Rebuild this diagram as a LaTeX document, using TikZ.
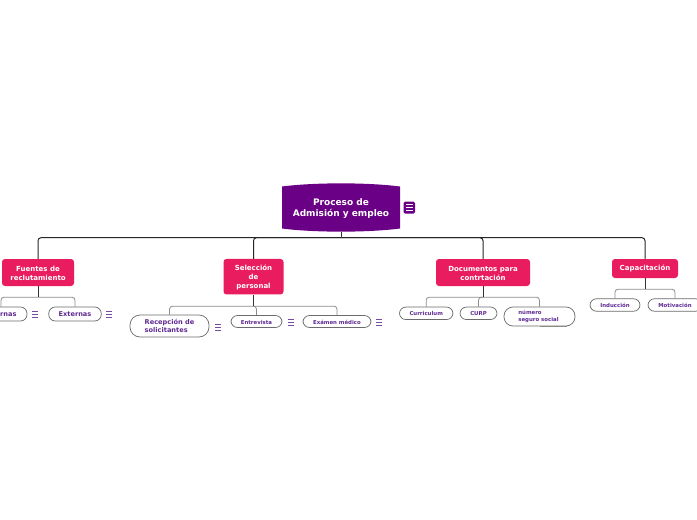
\documentclass[tikz,border=0pt]{standalone}
\usepackage{fontspec}
\setmainfont{DejaVu Sans}
\definecolor{rootc}{HTML}{6A0085}
\definecolor{pinkc}{HTML}{E91C60}
\definecolor{kidtxt}{HTML}{5F2A92}
\definecolor{kidline}{HTML}{6B6B6B}
\definecolor{busg}{HTML}{8C8C8C}
\newcommand{\burger}[2]{%
  \draw[kidtxt!85,line width=0.8pt] (#1-3,#2-3) -- (#1+3,#2-3) (#1-3,#2) -- (#1+3,#2) (#1-3,#2+3) -- (#1+3,#2+3);}
\newcommand{\dnt}{\rule{0pt}{7pt}}
\newcommand{\dnk}{\rule{0pt}{5.4pt}}
\tikzset{
  x=1pt,y=-1pt,
  rootlabel/.style={text=white,font=\bfseries\fontsize{9}{11.2}\selectfont,align=center,inner sep=0pt},
  topic/.style={fill=pinkc,text=white,rounded corners=3pt,inner sep=0pt,align=center,font=\bfseries\fontsize{7}{9.3}\selectfont},
  kid/.style={draw=kidline,line width=0.7pt,fill=white,rounded corners=6.5pt,inner sep=0pt,align=center,text=kidtxt,font=\bfseries\fontsize{5.4}{7}\selectfont},
  kidbig/.style={kid,font=\bfseries\fontsize{6.6}{8.4}\selectfont},
  mainline/.style={draw=black!85,line width=1pt,rounded corners=3pt},
  stemline/.style={draw=black!80,line width=1pt},
  busline/.style={draw=busg,line width=0.8pt,rounded corners=3pt},
}
\begin{document}
\begin{tikzpicture}
\useasboundingbox (0,0) rectangle (697,520);
\fill[white] (0,0) rectangle (697,520);
% root shape
\fill[rootc] (282,186.5) .. controls (315,182.3) and (367,182.3) .. (400,186.5)
  -- (400,228.5) .. controls (367,232.7) and (315,232.7) .. (282,228.5) -- cycle;
\node[rootlabel,minimum width=118pt,minimum height=47pt] (root) at (341,208.5) {Proceso de\\Admisión y empleo};
% topics
\node[topic,minimum width=72pt,minimum height=27pt] (fuentes) at (38,272.5) {\dnt Fuentes de\\reclutamiento};
\node[topic,minimum width=60pt,minimum height=35.5pt] (seleccion) at (253.5,276.7) {\dnt Selección\\de\\personal};
\node[topic,minimum width=94pt,minimum height=27pt] (docs) at (483,272.5) {\dnt Documentos para\\contrtación};
\node[topic,minimum width=66pt,minimum height=19pt] (capa) at (645,268.5) {Capacitación};
% children
\node[kidbig,minimum width=52pt,minimum height=14pt] (internas) at (1,314) {\dnk Internas};
\node[kidbig,minimum width=52.5pt,minimum height=14pt] (externas) at (75,314) {\dnk Externas};
\node[kidbig,rounded corners=10pt,minimum width=79pt,minimum height=22pt,align=left] (recepcion) at (169.5,326) {Recepción de\\solicitantes};
\node[kid,minimum width=51pt,minimum height=12pt] (entrevista) at (256.5,321.5) {\dnk Entrevista};
\node[kid,minimum width=68pt,minimum height=12pt] (examen) at (337,321.5) {\dnk Exámen médico};
\node[kid,minimum width=53.5pt,minimum height=12.5pt] (curriculum) at (426.2,313.3) {\dnk Curriculum};
\node[kid,minimum width=37pt,minimum height=12.5pt] (curp) at (478.5,313.3) {\dnk CURP};
\node[kid,rounded corners=9pt,minimum width=71pt,minimum height=19pt,align=left] (numero) at (539.5,316.5) {\hspace*{-2pt}número\\\hspace*{-2pt}seguro social};
\node[kid,minimum width=50pt,minimum height=12.5pt] (induccion) at (615,305) {\dnk Inducción};
\node[kid,minimum width=54pt,minimum height=12.5pt] (motivacion) at (675,305) {\dnk Motivación};
% trunk and branch points
\coordinate (rootbus) at ([yshift=-5.5pt]root.south);
\coordinate (fuentesbus) at ([yshift=-11pt]fuentes.south);
\coordinate (seleccionbus) at ([yshift=-11.5pt]seleccion.south);
\coordinate (docsbus) at ([yshift=-11pt]docs.south);
\coordinate (capabus) at ([yshift=-11pt]capa.south);
\foreach \c in {fuentes,seleccion,docs,capa}
  \draw[mainline] (rootbus) -| (\c.north);
\draw[stemline] (root.south) -- (rootbus);
\foreach \c in {internas,externas}
  \draw[busline] (fuentesbus) -| (\c.north);
\foreach \c in {recepcion,entrevista,examen}
  \draw[busline] (seleccionbus) -| (\c.north);
\foreach \c in {curriculum,curp,numero}
  \draw[busline] (docsbus) -| (\c.north);
\foreach \c in {induccion,motivacion}
  \draw[busline] (capabus) -| (\c.north);
\draw[stemline] (fuentes.south) -- (fuentesbus);
\draw[stemline] (seleccion.south) -- (seleccionbus);
\draw[stemline] (docs.south) -- (docsbus);
\draw[stemline] (capa.south) -- (capabus);
\draw[busg,line width=0.8pt] (540,326) -- (567,326);
% icons
\fill[rootc,rounded corners=1.5pt] (403.5,201.5) rectangle (415,213.5);
\draw[white,line width=0.8pt] (406,204.5) -- (412.5,204.5) (406,207.5) -- (412.5,207.5) (406,210.5) -- (412.5,210.5);
\burger{35}{314}
\burger{109}{314}
\burger{218}{327}
\burger{290.5}{322}
\burger{379}{322}
\end{tikzpicture}
\end{document}
